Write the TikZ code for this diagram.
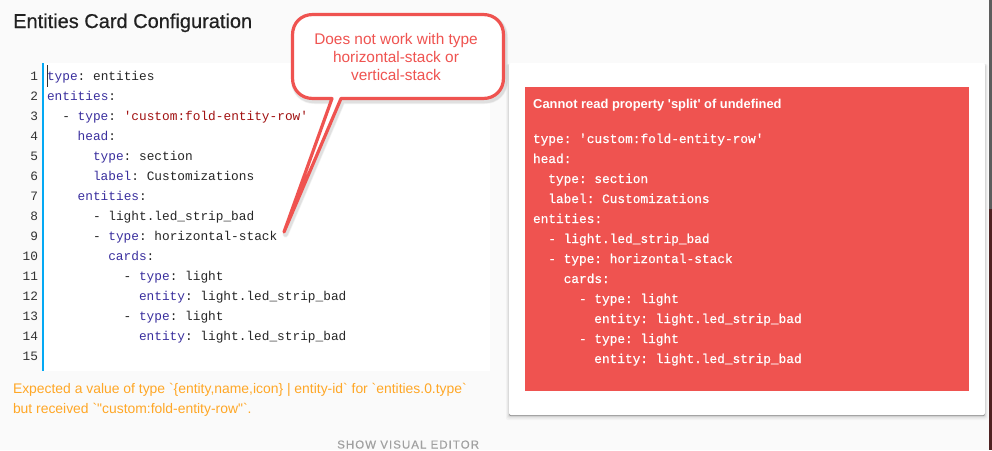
\documentclass[tikz,border=0pt]{standalone}
\usepackage{fontspec}
\setmainfont{Liberation Sans}
\newfontfamily\uifont{Liberation Sans}
\newfontfamily\medfont[FakeBold=0.6]{Liberation Sans}
\newfontfamily\spacedfont[LetterSpace=9,FakeBold=0.4]{Liberation Sans}
\newfontfamily\codefont{Liberation Mono}
\newfontfamily\codebold[FakeBold=0.6]{Liberation Mono}
\definecolor{pagebg}{HTML}{FAFAFA}
\definecolor{errred}{HTML}{EF5350}
\definecolor{barblue}{HTML}{03A9F4}
\definecolor{keyc}{HTML}{3A2F9E}
\definecolor{strc}{HTML}{A11111}
\definecolor{warnc}{HTML}{FFA726}
\definecolor{titlec}{HTML}{212121}
\definecolor{stripgray}{HTML}{5D5D5D}
\definecolor{stripdark}{HTML}{4F2222}
\definecolor{showc}{HTML}{A0A0A0}
\newcommand{\kw}[1]{\textcolor{keyc}{#1}}
\tikzset{
  codetxt/.style={anchor=base west,inner sep=0pt,outer sep=0pt,font=\frenchspacing\codefont\fontsize{12.8}{14}\selectfont,text=black!85},
  errtxt/.style={anchor=base west,inner sep=0pt,outer sep=0pt,font=\frenchspacing\codebold\fontsize{12.8}{14}\selectfont,text=white},
  lnum/.style={anchor=base east,inner sep=0pt,outer sep=0pt,font=\codefont\fontsize{12.8}{14}\selectfont,text=black!80},
  warntxt/.style={anchor=base west,inner sep=0pt,outer sep=0pt,font=\frenchspacing\uifont\fontsize{13.9}{16}\selectfont,text=warnc},
  calltxt/.style={anchor=base,inner sep=0pt,outer sep=0pt,font=\uifont\fontsize{15.4}{17}\selectfont,text=errred},
}
\begin{document}
\begin{tikzpicture}[x=1pt,y=-1pt]
\useasboundingbox (0,0) rectangle (992,450);
\fill[pagebg] (0,0) rectangle (992,450);
% right strip
\fill[stripgray] (989,0) rectangle (992,209);
\fill[stripdark] (989,209) rectangle (992,450);
% title
\node[anchor=base west,inner sep=0pt,font=\medfont\fontsize{20}{22}\selectfont,text=titlec] (title) at (13,28) {Entities Card Configuration};
% code panel
\fill[white] (43,63) rectangle (490,371);
\fill[barblue] (42,63) rectangle (44,371);
\fill[black!80] (47,65) rectangle (47.7,87);
\foreach \n in {1,...,15}{
  \node[lnum] (ln\n) at (38,{80.4+20*(\n-1)}) {\n};
}
\node[codetxt] (c1) at (47,80.4) {\kw{type}: entities};
\node[codetxt] (c2) at (47,100.4) {\kw{entities}:};
\node[codetxt] (c3) at (62.3,120.4) {- \kw{type}: \textcolor{strc}{'custom:fold-entity-row'}};
\node[codetxt] (c4) at (77.7,140.4) {\kw{head}:};
\node[codetxt] (c5) at (93,160.4) {\kw{type}: section};
\node[codetxt] (c6) at (93,180.4) {\kw{label}: Customizations};
\node[codetxt] (c7) at (77.7,200.4) {\kw{entities}:};
\node[codetxt] (c8) at (93,220.4) {- light.led\_strip\_bad};
\node[codetxt] (c9) at (93,240.4) {- \kw{type}: horizontal-stack};
\node[codetxt] (c10) at (108.3,260.4) {\kw{cards}:};
\node[codetxt] (c11) at (123.7,280.4) {- \kw{type}: light};
\node[codetxt] (c12) at (139,300.4) {\kw{entity}: light.led\_strip\_bad};
\node[codetxt] (c13) at (123.7,320.4) {- \kw{type}: light};
\node[codetxt] (c14) at (139,340.4) {\kw{entity}: light.led\_strip\_bad};
% warning
\node[warntxt] (w1) at (13,393) {Expected a value of type `\{entity,name,icon\} | entity-id` for `entities.0.type`};
\node[warntxt] (w2) at (13,413) {but received `"custom:fold-entity-row"`.};
\node[anchor=base west,inner sep=0pt,font=\spacedfont\fontsize{11.5}{13}\selectfont,text=showc] (show) at (337,448.5) {SHOW VISUAL EDITOR};
% error card
\foreach \o/\e/\b in {0.03/3/5,0.04/2/3.5,0.06/1/2.4,0.3/0/1.2}{
  \fill[black,opacity=\o,rounded corners=2] (509-\e,64) rectangle (985+\e,415+\b);
}
\fill[white,rounded corners=2] (509,63) rectangle (985,415);
\fill[errred] (525,87) rectangle (969,391);
\node[anchor=base west,inner sep=0pt,font=\frenchspacing\uifont\bfseries\fontsize{12.9}{14}\selectfont,text=white] (errhead) at (533,108.5) {Cannot read property 'split' of undefined};
\node[errtxt] (e1) at (533,143) {type: 'custom:fold-entity-row'};
\node[errtxt] (e2) at (533,163) {head:};
\node[errtxt] (e3) at (548.3,183) {type: section};
\node[errtxt] (e4) at (548.3,203) {label: Customizations};
\node[errtxt] (e5) at (533,223) {entities:};
\node[errtxt] (e6) at (548.3,243) {- light.led\_strip\_bad};
\node[errtxt] (e7) at (548.3,263) {- type: horizontal-stack};
\node[errtxt] (e8) at (563.7,283) {cards:};
\node[errtxt] (e9) at (579,303) {- type: light};
\node[errtxt] (e10) at (594.3,323) {entity: light.led\_strip\_bad};
\node[errtxt] (e11) at (579,343) {- type: light};
\node[errtxt] (e12) at (594.3,363) {entity: light.led\_strip\_bad};
% callout
\def\calloutpath{(332,98.5) -- (284,232) -- (341,98.5) -- (483,98.5)
  .. controls (495,98.5) and (503.5,90) .. (503.5,78)
  -- (503.5,35) .. controls (503.5,23) and (495,14.5) .. (483,14.5)
  -- (313,14.5) .. controls (301,14.5) and (292.5,23) .. (292.5,35)
  -- (292.5,78) .. controls (292.5,90) and (301,98.5) .. (313,98.5) -- cycle}
\foreach \o/\w in {0.05/6,0.07/4.5}{
  \draw[black,opacity=\o,line width=\w,line join=round,shift={(1.5,2.5)}] \calloutpath;
}
\draw[errred,fill=white,line width=3.2,line join=round] \calloutpath;
\node[calltxt] (k1) at (396,44) {Does not work with type};
\node[calltxt] (k2) at (396,62) {horizontal-stack or};
\node[calltxt] (k3) at (396,80) {vertical-stack};
\end{tikzpicture}
\end{document}
